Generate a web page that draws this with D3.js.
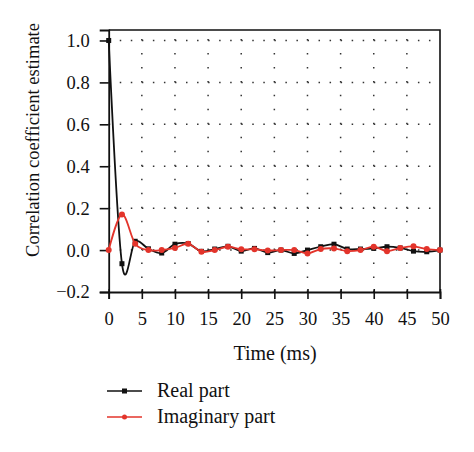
<!DOCTYPE html>
<html>
<head>
<meta charset="utf-8">
<script src="https://cdn.jsdelivr.net/npm/d3@7"></script>
<style>
  body { margin: 0; background: #fff; }
  text { font-family: "Liberation Serif", "DejaVu Serif", serif; fill: #111; }
</style>
</head>
<body>
<div id="chart"></div>
<script>
// sample times (ms)
const times = [0, 2, 4, 6, 8, 10, 12, 14, 16, 18, 20, 22, 24, 26, 28, 30, 32, 34, 36, 38, 40, 42, 44, 46, 48, 50]
const realPart = [1.0, -0.065, 0.042, 0.006, -0.014, 0.028, 0.031, -0.006, 0.005, 0.018, -0.005, 0.008, -0.012, 0.0, -0.016, 0.0, 0.016, 0.028, 0.005, 0.005, 0.008, 0.016, 0.01, -0.005, -0.008, 0.0]
const imagPart = [0.0, 0.17, 0.03, 0.0, 0.0, 0.01, 0.03, -0.008, 0.0, 0.016, 0.004, 0.004, -0.002, 0.0, 0.0, -0.016, 0.005, 0.008, -0.005, 0.0, 0.016, -0.005, 0.01, 0.018, 0.005, 0.0]
const xTicks = [0, 5, 10, 15, 20, 25, 30, 35, 40, 45, 50]
const yTicks = [-0.2, 0.0, 0.2, 0.4, 0.6, 0.8, 1.0]
const seriesNames = ["Real part", "Imaginary part"]

const width = 474, height = 452
const margin = {left: 108.7, right: 440, top: 30, bottom: 292}

const svg = d3.select("#chart").append("svg")
    .attr("width", width)
    .attr("height", height)

const x = d3.scaleLinear().domain([0, 50]).range([margin.left, margin.right])
const y = d3.scaleLinear().domain([-0.2, 1.05]).range([margin.bottom, margin.top])

// dotted grid, dot spacing = a third of the tick step
const ySpacing = (y(0) - y(0.2)) / 3
const xSpacing = (x(5) - x(0)) / 3

svg.append("g").selectAll("line")
    .data(xTicks.slice(1, -1))
    .enter().append("line")
    .attr("x1", d => x(d)).attr("x2", d => x(d))
    .attr("y1", margin.bottom).attr("y2", margin.top)
    .attr("stroke", "#333")
    .attr("stroke-width", 1.5)
    .attr("stroke-dasharray", "1.5," + (ySpacing - 1.5))

svg.append("g").selectAll("line")
    .data(yTicks.slice(1))
    .enter().append("line")
    .attr("x1", margin.left).attr("x2", margin.right)
    .attr("y1", d => y(d)).attr("y2", d => y(d))
    .attr("stroke", "#333")
    .attr("stroke-width", 1.5)
    .attr("stroke-dasharray", "1.5," + (xSpacing - 1.5))

// frame (top and right)
svg.append("path")
    .attr("d", `M${margin.left},${margin.top}H${margin.right}V${margin.bottom}`)
    .attr("fill", "none")
    .attr("stroke", "#111")
    .attr("stroke-width", 1.6)

// axes
const xAxis = svg.append("g")
    .attr("transform", "translate(0," + margin.bottom + ")")
    .call(d3.axisBottom(x).tickValues(xTicks).tickFormat(d3.format("d")).tickSize(7).tickPadding(13))
xAxis.select(".domain").attr("stroke", "#111").attr("stroke-width", 1.8)
xAxis.selectAll(".tick line").attr("y1", -3).attr("stroke", "#111").attr("stroke-width", 1.6)
xAxis.selectAll(".tick text").style("font-size", "18.5px")

const yAxis = svg.append("g")
    .attr("transform", "translate(" + margin.left + ",0)")
    .call(d3.axisLeft(y).tickValues(yTicks).tickFormat(d => d3.format(".1f")(d).replace("-", "\u2212")).tickSize(9).tickPadding(10))
yAxis.select(".domain").attr("stroke", "#111").attr("stroke-width", 1.8)
yAxis.selectAll(".tick line").attr("stroke", "#111").attr("stroke-width", 1.6)
yAxis.selectAll(".tick text").style("font-size", "18.5px")

// axis titles
svg.append("text")
    .attr("x", 275)
    .attr("y", 360)
    .attr("text-anchor", "middle")
    .style("font-size", "20px")
    .text("Time (ms)")

svg.append("text")
    .attr("transform", "translate(39,140) rotate(-90)")
    .attr("text-anchor", "middle")
    .style("font-size", "18.5px")
    .text("Correlation coefficient estimate")

// series
const series = [
    {name: seriesNames[0], values: realPart, color: "#111", shape: "square"},
    {name: seriesNames[1], values: imagPart, color: "#e3342b", shape: "circle"}
]

const line = d3.line()
    .x(d => x(d[0]))
    .y(d => y(d[1]))
    .curve(d3.curveCatmullRom.alpha(0))

series.forEach(s => {
    const pts = times.map((t, i) => [t, s.values[i]])
    svg.append("path")
        .datum(pts)
        .attr("d", line)
        .attr("fill", "none")
        .attr("stroke", s.color)
        .attr("stroke-width", 1.8)
    if (s.shape === "square") {
        svg.append("g").selectAll("rect")
            .data(pts)
            .enter().append("rect")
            .attr("x", d => x(d[0]) - 2.5)
            .attr("y", d => y(d[1]) - 2.5)
            .attr("width", 5).attr("height", 5)
            .attr("fill", s.color)
    } else {
        svg.append("g").selectAll("circle")
            .data(pts)
            .enter().append("circle")
            .attr("cx", d => x(d[0]))
            .attr("cy", d => y(d[1]))
            .attr("r", 3)
            .attr("fill", s.color)
    }
})

// legend
const legend = svg.append("g")
series.forEach((s, i) => {
    const ly = 391 + i * 26
    legend.append("line")
        .attr("x1", 107).attr("x2", 142)
        .attr("y1", ly).attr("y2", ly)
        .attr("stroke", s.color)
        .attr("stroke-width", 1.6)
    if (s.shape === "square") {
        legend.append("rect")
            .attr("x", 122).attr("y", ly - 2.5)
            .attr("width", 5).attr("height", 5)
            .attr("fill", s.color)
    } else {
        legend.append("circle")
            .attr("cx", 124.5).attr("cy", ly)
            .attr("r", 2.5)
            .attr("fill", s.color)
    }
    legend.append("text")
        .attr("x", 157)
        .attr("y", ly + 6)
        .style("font-size", "20px")
        .text(s.name)
})
</script>
</body>
</html>
